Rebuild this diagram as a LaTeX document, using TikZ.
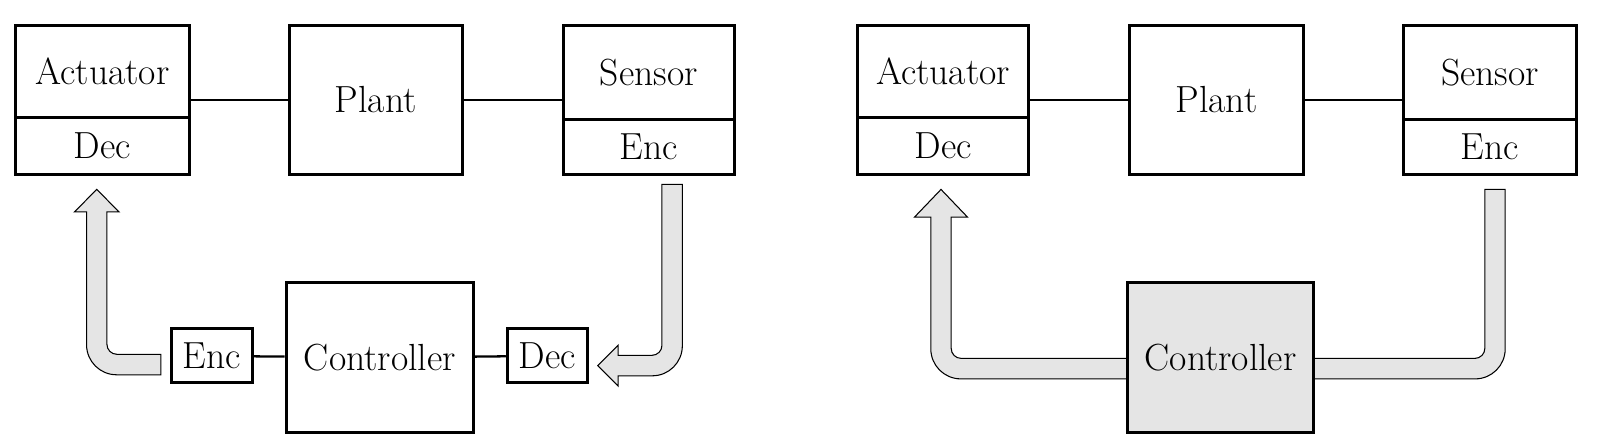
\documentclass[tikz,border=0pt]{standalone}
\usetikzlibrary{positioning}
\tikzset{
  blk/.style={draw, line width=1.7pt, inner sep=0pt, font=\fontsize{21}{25}\selectfont},
  link/.style={line width=1.3pt},
  fat/.style={draw, fill=gray!20, line width=0.6pt}
}
\begin{document}
\begin{tikzpicture}[x=0.02cm, y=-0.02cm]
  \begin{scope}[xscale=1.0184, yscale=1.024, transform shape]
    % left loop
    \node[blk, minimum width=3.42cm, minimum height=1.8cm] (actL) at (100.5,70) {Actuator};
    \node[blk, minimum width=3.42cm, minimum height=1.1cm] (actdecL) at (100.5,142.5) {Dec};
    \node[blk, minimum width=3.4cm, minimum height=2.9cm] (plantL) at (369,97.5) {Plant};
    \node[blk, minimum width=3.36cm, minimum height=1.84cm] (senL) at (637,71) {Sensor};
    \node[blk, minimum width=3.36cm, minimum height=1.06cm] (senencL) at (637,143.5) {Enc};
    \node[blk, minimum width=3.68cm, minimum height=2.92cm] (ctrlL) at (373,349) {Controller};
    \node[blk, minimum width=1.6cm, minimum height=1.06cm] (encL) at (208,347.5) {Enc};
    \node[blk, minimum width=1.58cm, minimum height=1.06cm] (decL) at (537.5,347.5) {Dec};
    \draw[link] (plantL.west) -- (plantL.west -| actL.east);
    \draw[link] (plantL.east) -- (plantL.east -| senL.west);
    \draw[link] (encL) -- (ctrlL);
    \draw[link] (ctrlL) -- (decL);
    \filldraw[fat] (650,180) -- (670,180) [rounded corners=0.6cm] -- (670,367) [sharp corners] -- (607,367) -- (607,377) -- (587,357) -- (607,337) -- (607,347) [rounded corners=0.2cm] -- (650,347) [sharp corners] -- cycle;
    \filldraw[fat] (158,346) [rounded corners=0.2cm] -- (105,346) [sharp corners] -- (105,207) -- (117,207) -- (95,185) -- (73,207) -- (85,207) [rounded corners=0.6cm] -- (85,366) [sharp corners] -- (158,366) -- cycle;
    % right loop
    \node[blk, minimum width=3.36cm, minimum height=1.8cm] (actR) at (926,70) {Actuator};
    \node[blk, minimum width=3.36cm, minimum height=1.1cm] (actdecR) at (926,142.5) {Dec};
    \node[blk, minimum width=3.42cm, minimum height=2.9cm] (plantR) at (1194.5,97.5) {Plant};
    \node[blk, minimum width=3.4cm, minimum height=1.84cm] (senR) at (1463,71) {Sensor};
    \node[blk, minimum width=3.4cm, minimum height=1.06cm] (senencR) at (1463,143.5) {Enc};
    \draw[link] (plantR.west) -- (plantR.west -| actR.east);
    \draw[link] (plantR.east) -- (plantR.east -| senR.west);
    \filldraw[fat] (1458,185) -- (1478,185) [rounded corners=0.6cm] -- (1478,370) [sharp corners] -- (1290,370) -- (1290,350) [rounded corners=0.2cm] -- (1458,350) [sharp corners] -- cycle;
    \filldraw[fat] (1107,350) [rounded corners=0.2cm] -- (934,350) [sharp corners] -- (934,212) -- (950,212) -- (924,185) -- (898,212) -- (914,212) [rounded corners=0.6cm] -- (914,370) [sharp corners] -- (1107,370) -- cycle;
    \node[blk, fill=gray!20, minimum width=3.66cm, minimum height=2.92cm] (ctrlR) at (1198.5,349) {Controller};
  \end{scope}
    \pgfresetboundingbox
    \path[use as bounding box] (0,0) rectangle (1597,446);
\end{tikzpicture}
\end{document}
